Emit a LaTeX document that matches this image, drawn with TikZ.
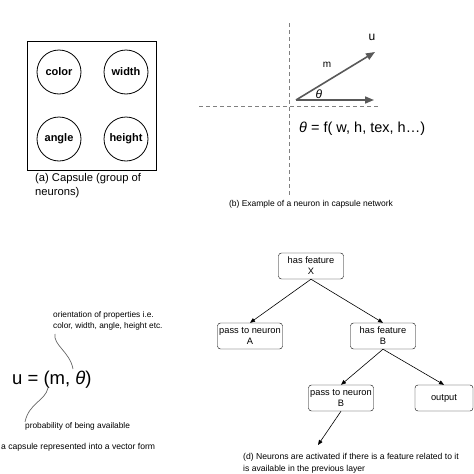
\documentclass[tikz,border=0pt]{standalone}
\usepackage{fontspec}
\setmainfont{Liberation Sans}
\usetikzlibrary{arrows.meta,positioning}
\tikzset{
	neuron/.style={draw,circle,minimum size=44pt,inner sep=0pt,line width=0.8pt,font=\fontsize{11}{13}\selectfont\bfseries},
	decision/.style={draw,rounded corners=3pt,minimum width=65pt,minimum height=26pt,inner sep=1pt,align=center,font=\fontsize{9.3}{11}\selectfont},
	flow/.style={-{Triangle[length=5pt,width=4pt]},line width=0.6pt},
	axisline/.style={draw=gray,dash pattern=on 4pt off 3pt,line width=0.8pt},
	vec/.style={-{Triangle[length=9pt,width=7pt]},line width=1.6pt,draw=black!65,fill=black!65},
	note/.style={inner sep=0pt,align=left,font=\fontsize{8.3}{10.5}\selectfont},
	pointer/.style={draw=black!60,line width=0.7pt}
}
\begin{document}
\begin{tikzpicture}[x=1pt,y=-1pt]
	\useasboundingbox (0,0) rectangle (474,474);
	% (a) capsule
	\draw[line width=0.8pt] (27,41) rectangle (156,170);
	\foreach \n/\x/\y/\t in {color/59/72/color, width/126/72/width, angle/59/139/angle, height/126/139/height}
		\node[neuron] (\n) at (\x,\y) {\t};
	\node[note,anchor=north west,font=\fontsize{11.2}{14}\selectfont] (capa) at (35,173) {(a) Capsule (group of\\neurons)};
	
	% (b) neuron
	\draw[axisline] (289,23) -- (289,197);
	\draw[axisline] (199,106) -- (380,106);
	\coordinate (o) at (296,100);
	\coordinate (xend) at (374,100);
	\coordinate (uend) at (375,52);
	\draw[vec] (o) -- (xend);
	\draw[vec] (o) -- (uend);
	\node (u) at (372,37) {\fontsize{12}{14}\selectfont u};
	\node (m) at (327,65) {\fontsize{10}{12}\selectfont m};
	\node (th) at (319,94) {\fontsize{12}{14}\selectfont\itshape θ};
	\node[anchor=west,inner sep=0pt] (fth) at (299,129) {\fontsize{14.5}{17}\selectfont{\itshape θ} = f( w, h, tex, h…)};
	\node[note,font=\fontsize{8.5}{10}\selectfont] (capb) at (311,204) {(b) Example of a neuron in capsule network};
	
	% (c) vector form
	\node[anchor=west,inner sep=0pt] (eq) at (12,380) {\fontsize{18.5}{22}\selectfont u = (m, {\itshape θ})};
	\node[note,anchor=south west] (orient) at (53,330) {orientation of properties i.e.\\color, width, angle, height etc.};
	\node[note,anchor=west] (prob) at (25,426) {probability of being available};
	\node[note,anchor=west,font=\fontsize{8.6}{10}\selectfont] (capc) at (1,447) {a capsule represented into a vector form};
	\coordinate (tht) at (73,369);
	\coordinate (par) at (48,388);
	\draw[pointer] (orient.south west) ++(2,4) .. controls (53,345) and (70,352) .. (tht);
	\draw[pointer] (par) .. controls (45,401) and (29,403) .. (prob.north west) ++(4,-3);
	
	% (d) decision tree
	\node[decision] (hx) at (311,266) {has feature\\X};
	\node[decision] (pa) at (250,336) {pass to neuron\\A};
	\node[decision] (hb) at (383,336) {has feature\\B};
	\node[decision] (pb) at (341,398) {pass to neuron\\B};
	\node[decision,minimum width=58pt] (out) at (444,398) {output};
	\coordinate (act) at (318,445);
	\draw[flow] (hx.south) -- (pa.north);
	\draw[flow] (hx.south) -- (hb.north);
	\draw[flow] (hb.south) -- (pb.north);
	\draw[flow] (hb.south) -- (out.north);
	\draw[flow] (pb.south) -- (act);
	\node[note,anchor=north west,font=\fontsize{8.6}{12.5}\selectfont] (capd) at (243,453) {(d) Neurons are activated if there is a feature related to it\\is available in the previous layer};
\end{tikzpicture}
\end{document}
